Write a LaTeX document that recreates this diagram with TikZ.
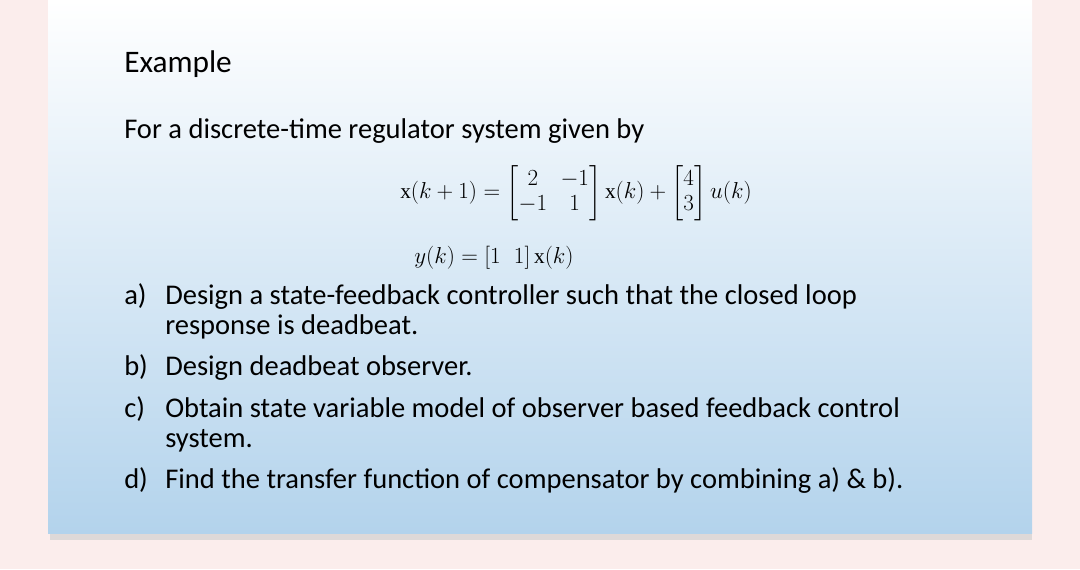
\documentclass[tikz,border=0pt]{standalone}
\usepackage{amsmath}
\usepackage{fontspec}
\setmainfont{Carlito}
\newfontfamily\tms{Liberation Serif}
\newcommand{\xx}{\text{\tms x}}
\definecolor{outer}{HTML}{FBEDEC}
\definecolor{topc}{HTML}{FFFFFF}
\definecolor{botc}{HTML}{B3D3EC}
\begin{document}
\begin{tikzpicture}[x=0.75pt,y=-0.75pt,
  body/.style={anchor=base west,inner sep=0,font=\fontsize{21.4}{25}\selectfont},
  eq/.style={anchor=west,inner sep=0,font=\fontsize{16}{19}\selectfont}]
\useasboundingbox (0,0) rectangle (1080,569);
\fill[outer] (0,0) rectangle (1080,569);
\fill[gray!40,opacity=0.6] (50,533) rectangle (1032,540);
\shade[top color=topc,bottom color=botc] (48,0) rectangle (1032,533);
\node[anchor=base west,inner sep=0,font=\fontsize{23.5}{26}\selectfont] (title) at (124,72) {Example};
\node[body] (intro) at (124,138) {For a discrete-time regulator system given by};
\node[eq] (eq1) at (400,193) {$\xx(k+1)=\begin{bmatrix}2 & -1\\ -1 & 1\end{bmatrix}\xx(k)+\begin{bmatrix}4\\3\end{bmatrix}u(k)$};
\node[eq] (eq2) at (414,258) {$y(k)=\begin{bmatrix}1 & 1\end{bmatrix}\xx(k)$};
\node[body] (la) at (124,304) {a)};
\node[body] (ta) at (165,304) {Design a state-feedback controller such that the closed loop};
\node[body] (ta2) at (165,334) {response is deadbeat.};
\node[body] (lb) at (124,375) {b)};
\node[body] (tb) at (165,375) {Design deadbeat observer.};
\node[body] (lc) at (124,417) {c)};
\node[body] (tc) at (165,417) {Obtain state variable model of observer based feedback control};
\node[body] (tc2) at (165,447) {system.};
\node[body] (ld) at (124,488) {d)};
\node[body] (td) at (165,488) {Find the transfer function of compensator by combining a) \& b).};
\end{tikzpicture}
\end{document}
